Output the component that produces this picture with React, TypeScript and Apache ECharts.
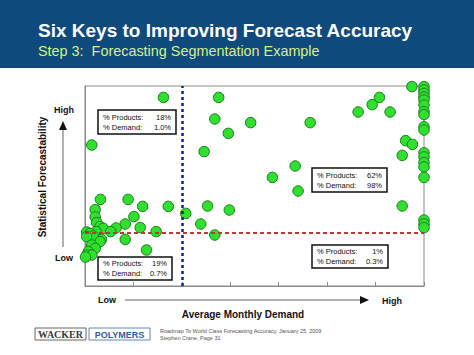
import React, { useEffect, useRef } from "react";
import * as echarts from "echarts";

// Average monthly demand (0..70 scale) and statistical forecastability (0..100)
const demand: number[] = [
  16.2, 27.6, 1.4, 26.8, 29.6, 24.6, 34.2, 46.5, 43.4, 38.7, 44.0,
  67.5, 60.8, 59.3, 56.4, 63.0, 66.2, 67.6, 65.5, 65.5,
  70, 70, 70, 70, 70, 70, 70, 70, 70, 70, 70, 70, 70, 70, 70, 70, 70, 70,
  20.8, 25.3, 29.8, 23.9, 26.8,
  3.2, 8.9, 11.9, 17.2, 2.1, 2.1, 10.1, 2.4, 8.3, 3.1, 3.8, 11.4, 6.4, 5.3,
  0.35, 2.3, 1.0, 14.7, 8.3, 3.4, 1.7, 0.35, 3.1, 1.4, 2.1, 0.7, 0.35, 1.4, 0.1, 12.7,
];
const forecastability: number[] = [
  94.3, 94.3, 70.5, 83.5, 76.3, 67.2, 81.7, 81.7, 60.0, 54.3, 47.5,
  99.7, 94.3, 90.7, 87.0, 87.0, 72.7, 70.8, 65.3, 40.0,
  99.7, 98.0, 96.3, 94.5, 93.0, 90.5, 87.2, 85.7, 79.6, 78.0, 66.6, 64.5, 61.7, 59.5, 54.3, 33.0, 31.0, 29.2,
  36.3, 40.0, 38.0, 31.0, 25.5,
  43.3, 43.3, 39.8, 39.8, 38.2, 34.5, 34.7, 31.7, 31.0, 29.7, 28.8, 29.2, 29.0, 27.2,
  27.0, 27.2, 26.3, 27.2, 23.3, 23.3, 25.0, 24.7, 22.2, 20.5, 18.8, 17.2, 15.5, 15.5, 14.5, 18.0,
];

const demandSplit = 20;
const forecastSplit = 26.5;

const quadrantLabels: string[] = ["% Products:", "% Demand:"];
const quadrantValues: string[][] = [
  ["18%", "1.0%"],
  ["62%", "98%"],
  ["19%", "0.7%"],
  ["1%", "0.3%"],
];

const FONT = "'Liberation Sans', Arial, Helvetica, sans-serif";

function box(x: number, y: number, w: number, h: number, vals: string[]) {
  const f = `7.5px ${FONT}`;
  return {
    type: "group",
    z: 20,
    children: [
      { type: "rect", shape: { x, y, width: w, height: h }, style: { fill: "#fff", stroke: "#111", lineWidth: 1.5 } },
      { type: "text", x: x + 5, y: y + h / 2 - 5, style: { text: quadrantLabels[0], fill: "#111", font: f, verticalAlign: "middle" } },
      { type: "text", x: x + 5, y: y + h / 2 + 5, style: { text: quadrantLabels[1], fill: "#111", font: f, verticalAlign: "middle" } },
      { type: "text", x: x + w - 5, y: y + h / 2 - 5, style: { text: vals[0], fill: "#111", font: f, align: "right", verticalAlign: "middle" } },
      { type: "text", x: x + w - 5, y: y + h / 2 + 5, style: { text: vals[1], fill: "#111", font: f, align: "right", verticalAlign: "middle" } },
    ],
  };
}

export default function App() {
  const ref = useRef<HTMLDivElement>(null);
  useEffect(() => {
    if (!ref.current) return;
    const chart = echarts.init(ref.current, undefined, { renderer: "svg" });
    const points = demand.map((d, i) => [d, forecastability[i]]);
    chart.setOption({
      animation: false,
      backgroundColor: "#fff",
      grid: { left: 85, top: 86, width: 339, height: 200, show: true, borderColor: "#8a8a8a", borderWidth: 1 },
      xAxis: {
        type: "value", min: 0, max: 70, interval: 10,
        axisLine: { show: true, lineStyle: { color: "#8a8a8a" } },
        axisTick: { show: true, inside: true, length: 4, lineStyle: { color: "#8a8a8a" } },
        axisLabel: { show: false }, splitLine: { show: false },
      },
      yAxis: {
        type: "value", min: 0, max: 100,
        axisLine: { show: true, lineStyle: { color: "#8a8a8a" } },
        axisTick: { show: false }, axisLabel: { show: false }, splitLine: { show: false },
      },
      series: [
        {
          type: "scatter",
          data: points,
          symbolSize: 10.5,
          itemStyle: { color: "#2fe02f", borderColor: "#1c7d1c", borderWidth: 1, opacity: 1 },
          z: 2,
        },
        {
          type: "line",
          data: [],
          z: 5,
          markLine: {
            silent: true,
            symbol: "none",
            label: { show: false },
            data: [
              { xAxis: demandSplit, lineStyle: { color: "#1a1a9a", width: 2.5, type: [3, 3] } },
              { yAxis: forecastSplit, lineStyle: { color: "#c83232", width: 2, type: [4, 3] } },
            ],
          },
        },
      ],
      graphic: [
        { type: "rect", z: 0, shape: { x: 0, y: 0, width: 474, height: 68 }, style: { fill: "#0f4a7c" } },
        { type: "text", x: 38, y: 30, style: { text: "Six Keys to Improving Forecast Accuracy", fill: "#fff", font: `bold 19px ${FONT}`, verticalAlign: "middle" } },
        { type: "text", x: 38, y: 51, style: { text: "Step 3:  Forecasting Segmentation Example", fill: "#d6f08c", font: `14.4px ${FONT}`, verticalAlign: "middle" } },
        { type: "text", x: 42, y: 177, rotation: Math.PI / 2, style: { text: "Statistical Forecastability", fill: "#111", font: `bold 10px ${FONT}`, align: "center", verticalAlign: "middle" } },
        { type: "text", x: 64, y: 110, style: { text: "High", fill: "#111", font: `bold 9px ${FONT}`, align: "center", verticalAlign: "middle" } },
        { type: "text", x: 64, y: 258, style: { text: "Low", fill: "#111", font: `bold 9px ${FONT}`, align: "center", verticalAlign: "middle" } },
        { type: "line", shape: { x1: 63, y1: 247, x2: 63, y2: 128 }, style: { stroke: "#999", lineWidth: 1.5 } },
        { type: "polygon", shape: { points: [[59, 130], [67, 130], [63, 121]] }, style: { fill: "#111" } },
        { type: "text", x: 107, y: 300, style: { text: "Low", fill: "#111", font: `bold 9px ${FONT}`, align: "center", verticalAlign: "middle" } },
        { type: "line", shape: { x1: 125, y1: 300, x2: 362, y2: 300 }, style: { stroke: "#999", lineWidth: 1.5 } },
        { type: "polygon", shape: { points: [[360, 296], [360, 304], [369, 300]] }, style: { fill: "#111" } },
        { type: "text", x: 392, y: 301, style: { text: "High", fill: "#111", font: `bold 9px ${FONT}`, align: "center", verticalAlign: "middle" } },
        { type: "text", x: 243, y: 314, style: { text: "Average Monthly Demand", fill: "#111", font: `bold 10px ${FONT}`, align: "center", verticalAlign: "middle" } },
        box(98, 110, 78, 24, quadrantValues[0]),
        box(312, 168, 75, 24, quadrantValues[1]),
        box(98, 257, 74, 23, quadrantValues[2]),
        box(312, 245, 76, 23, quadrantValues[3]),
        { type: "rect", shape: { x: 35, y: 328, width: 51, height: 12 }, style: { fill: "#fff", stroke: "#666", lineWidth: 1 } },
        { type: "text", x: 60.5, y: 334.5, style: { text: "WACKER", fill: "#3a3a3a", font: `bold 10px 'Liberation Serif', serif`, align: "center", verticalAlign: "middle" } },
        { type: "rect", shape: { x: 89, y: 328, width: 61, height: 12 }, style: { fill: "#fff", stroke: "#6a86b0", lineWidth: 1 } },
        { type: "text", x: 119.5, y: 334.5, style: { text: "POLYMERS", fill: "#2f5f9f", font: `bold 9px ${FONT}`, align: "center", verticalAlign: "middle" } },
        { type: "text", x: 160, y: 331, style: { text: "Roadmap To World Class Forecasting Accuracy, January 25, 2009", fill: "#555", font: `5.5px ${FONT}`, verticalAlign: "middle" } },
        { type: "text", x: 160, y: 338, style: { text: "Stephen Crane, Page 31", fill: "#555", font: `5.5px ${FONT}`, verticalAlign: "middle" } },
      ],
    });
    return () => chart.dispose();
  }, []);
  return <div ref={ref} style={{ position: "absolute", left: 0, top: 0, width: 474, height: 355 }} />;
}
